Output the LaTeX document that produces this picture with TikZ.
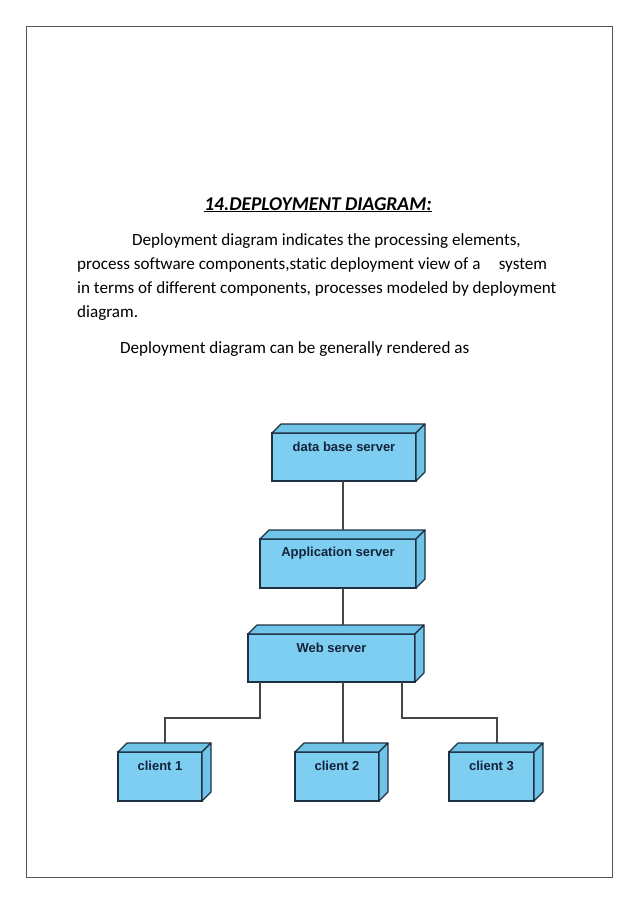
\documentclass[tikz,border=0pt]{standalone}
\usepackage{fontspec}
\setmainfont[Ligatures=NoCommon]{Carlito}
\newfontfamily\boxfont{Liberation Sans}
\definecolor{boxfill}{RGB}{125,206,240}
\definecolor{sidefill}{RGB}{112,196,232}
\definecolor{boxline}{RGB}{30,48,66}
\definecolor{labcol}{RGB}{20,35,60}
\definecolor{conn}{RGB}{70,70,70}
\definecolor{frame}{RGB}{85,85,85}
\tikzset{
  devfront/.style={draw=boxline, fill=boxfill, line width=1.1pt, inner sep=0pt, outer sep=0pt, rectangle},
  devface/.style={draw=boxline, fill=sidefill, line width=1.1pt, line join=round},
  devlabel/.style={font=\boxfont\bfseries\fontsize{13}{15}\selectfont, text=labcol, inner sep=0pt},
  conline/.style={draw=conn, line width=1.2pt},
  bodytext/.style={font=\fontsize{17.1}{20}\selectfont, anchor=base west, inner sep=0pt},
}
\newcommand\devbox[6]{%
  \node[devfront, minimum width=#4pt, minimum height=#5pt, anchor=north west] (#1) at (#2,#3) {};
  \draw[devface] (#1.north west) -- ++(9,-9) -- ([shift={(9,-9)}]#1.north east) -- (#1.north east) -- cycle;
  \draw[devface] (#1.north east) -- ++(9,-9) -- ([shift={(9,-9)}]#1.south east) -- (#1.south east) -- cycle;
  \node[devlabel] (#1-l) at ([yshift=-14pt]#1.north) {#6};
}
\begin{document}
\begin{tikzpicture}[x=1pt, y=-1pt]
\useasboundingbox (0,0) rectangle (638,902);
\fill[white] (0,0) rectangle (638,902);
\draw[frame, line width=1pt] (26,26) rectangle (612,877);

\node[font=\bfseries\itshape\fontsize{19.5}{22}\selectfont, anchor=base, inner sep=0pt] (title) at (318,210) {\underline{14.DEPLOYMENT DIAGRAM:}};
\node[bodytext] (p1) at (132,245) {Deployment diagram indicates the processing elements,};
\node[bodytext] (p2) at (77,269) {process software components,static deployment view of a \ \ \ \,system};
\node[bodytext] (p3) at (77,293) {in terms of different components, processes modeled by deployment};
\node[bodytext] (p4) at (77,317) {diagram.};
\node[bodytext] (p5) at (120,353) {Deployment diagram can be generally rendered as};

\devbox{db}{272}{433}{144}{48}{data base server}
\devbox{app}{260}{539}{156}{49}{Application server}
\devbox{web}{248}{634}{167}{48}{Web server}
\devbox{c1}{118}{752}{84}{49}{client 1}
\devbox{c2}{295}{752}{84}{49}{client 2}
\devbox{c3}{449}{752}{85}{49}{client 3}

\coordinate (app-top) at ([yshift=9pt]app.north);
\coordinate (web-top) at ([yshift=9pt]web.north);
\coordinate (c1-top) at ([xshift=5pt,yshift=9pt]c1.north);
\coordinate (c2-top) at ([xshift=5pt,yshift=9pt]c2.north);
\coordinate (c3-top) at ([xshift=5.5pt,yshift=9pt]c3.north);

\draw[conline] ([xshift=-1pt]db.south) -- ([xshift=-1pt]db.south |- app-top);
\draw[conline] ([xshift=5pt]app.south) -- ([xshift=5pt]app.south |- web-top);
\draw[conline] ([xshift=11.5pt]web.south) -- ([xshift=11.5pt]web.south |- c2-top);
\draw[conline] ([xshift=12pt]web.south west) -- ++(0,36) -| (c1-top);
\draw[conline] ([xshift=-13pt]web.south east) -- ++(0,36) -| (c3-top);
\end{tikzpicture}
\end{document}
